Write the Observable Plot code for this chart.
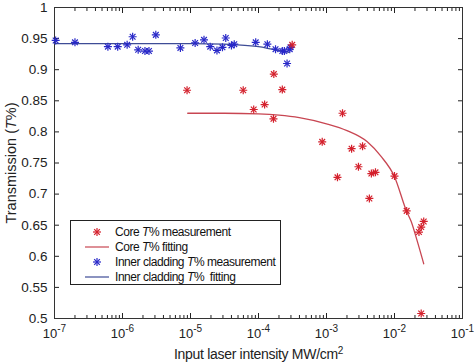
<!DOCTYPE html>
<html><head><meta charset="utf-8">
<script src="https://cdn.jsdelivr.net/npm/d3@7"></script>
<script src="https://cdn.jsdelivr.net/npm/@observablehq/plot@0.6"></script>
<style>
body{margin:0;background:#fff;}
#wrap{position:relative;width:474px;height:364px;font-family:"Liberation Sans",Arial,sans-serif;}
#legend{position:absolute;left:70px;top:220px;width:209px;height:63px;border:1px solid #222;background:#fff;font-size:12px;letter-spacing:-0.45px;color:#111;}
.row{position:absolute;left:0;height:15px;display:flex;align-items:center;white-space:nowrap;}
.row svg{margin-left:14px;margin-right:6px;}
</style></head><body><div id="wrap"></div>
<script>
// Inner cladding measurement
const cladI = [1.04e-7,2.0e-7,6.1e-7,8.5e-7,1.17e-6,1.41e-6,1.70e-6,2.14e-6,2.45e-6,3.09e-6,7.1e-6,1.17e-5,1.58e-5,1.95e-5,2.45e-5,2.95e-5,3.3e-5,4.0e-5,4.4e-5,9.1e-5,1.35e-4,1.78e-4,2.24e-4,2.4e-4,2.63e-4,2.88e-4,2.95e-4];
const cladT = [0.947,0.944,0.937,0.937,0.940,0.953,0.932,0.930,0.930,0.956,0.935,0.943,0.948,0.937,0.931,0.936,0.951,0.939,0.941,0.944,0.941,0.933,0.930,0.930,0.910,0.933,0.936];
// Inner cladding fitting
const cladFitI = [1e-7,1e-5,3.16e-5,6.3e-5,1e-4,1.58e-4,2.5e-4,2.8e-4];
const cladFitT = [0.942,0.942,0.941,0.939,0.937,0.933,0.929,0.928];
// Core measurement
const coreI = [3.13e-4,8.9e-6,5.96e-5,8.5e-5,1.23e-4,1.68e-4,2.24e-4,1.66e-4,1.72e-3,8.65e-4,2.34e-3,3.39e-3,2.95e-3,1.45e-3,4.57e-3,5.25e-3,4.27e-3,1.0e-2,1.51e-2,2.69e-2,2.47e-2,2.29e-2,2.47e-2];
const coreT = [0.940,0.867,0.867,0.836,0.844,0.893,0.868,0.821,0.830,0.784,0.773,0.777,0.744,0.727,0.733,0.735,0.693,0.729,0.673,0.656,0.647,0.639,0.508];
// Core fitting
const coreFitI = [9.1e-6,3.16e-5,1e-4,2.0e-4,3.98e-4,1e-3,2.0e-3,3.98e-3,6.3e-3,1e-2,1.51e-2,1.76e-2,2.14e-2,2.69e-2];
const coreFitT = [0.830,0.830,0.829,0.827,0.823,0.813,0.802,0.784,0.761,0.728,0.672,0.656,0.626,0.588];
// Ticks
const xMajor = [1e-7,1e-6,1e-5,1e-4,1e-3,1e-2,1e-1];
const xMinorMult = [2,3,4,5,6,7,8,9];
const yTicks = [0.5,0.55,0.6,0.65,0.7,0.75,0.8,0.85,0.9,0.95,1];
const legendLabels = ["Core <i>T</i>% measurement","Core <i>T</i>% fitting","Inner cladding <i>T</i>% measurement","Inner cladding <i>T</i>%&nbsp; fitting"];

const RED="#d4202c", REDLINE="#c84652", BLUE="#2828c8", BLUELINE="#3e4c96";
const xMinor = xMajor.slice(0,-1).flatMap(p => xMinorMult.map(k => k*p));
const zip = (a,b) => a.map((v,i)=>({x:v,y:b[i]}));
const clad = zip(cladI,cladT), cladFit = zip(cladFitI,cladFitT), core = zip(coreI,coreT), coreFit = zip(coreFitI,coreFitT);
const blank = () => "";
const star = (data, color) => [
  Plot.dot(data,{x:"x",y:"y",symbol:"plus",r:2.7,stroke:color,strokeWidth:1.2}),
  Plot.dot(data,{x:"x",y:"y",symbol:"times",r:2.7,stroke:color,strokeWidth:1.2})
];

const chart = Plot.plot({
  width:474, height:364,
  marginLeft:54, marginRight:12, marginTop:7, marginBottom:46,
  style:{fontFamily:'"Liberation Sans",Arial,sans-serif', fontSize:"13px", color:"#222", background:"#fff"},
  x:{type:"log", domain:[1e-7,1e-1]},
  y:{domain:[0.5,1]},
  marks:[
    Plot.axisX(xMajor,{anchor:"bottom",tickSize:0,tickPadding:10,fontSize:13,
      tickFormat:d=>"10^"+Math.round(Math.log10(d)),
      label:"Input laser intensity MW/cm²",labelAnchor:"center",labelOffset:40}),
    Plot.axisX(xMajor,{anchor:"bottom",tickSize:-5,tickFormat:blank,label:null}),
    Plot.axisX(xMinor,{anchor:"bottom",tickSize:-3,tickFormat:blank,label:null}),
    Plot.axisX(xMajor,{anchor:"top",tickSize:-5,tickFormat:blank,label:null}),
    Plot.axisX(xMinor,{anchor:"top",tickSize:-3,tickFormat:blank,label:null}),
    Plot.axisY(yTicks,{anchor:"left",tickSize:0,tickPadding:7,fontSize:13.5,
      tickFormat:d=>String(+d.toFixed(2)),
      label:"Transmission (T%)",labelAnchor:"center",labelOffset:49}),
    Plot.axisY(yTicks,{anchor:"left",tickSize:-5,tickFormat:blank,label:null}),
    Plot.axisY(yTicks,{anchor:"right",tickSize:-5,tickFormat:blank,label:null}),
    Plot.frame({stroke:"#333",strokeWidth:1}),
    Plot.line(cladFit,{x:"x",y:"y",stroke:BLUELINE,strokeWidth:1.3,curve:"monotone-x"}),
    Plot.line(coreFit,{x:"x",y:"y",stroke:REDLINE,strokeWidth:1.3,curve:"monotone-x"}),
    ...star(clad,BLUE),
    ...star(core,RED)
  ]
});

// superscript exponents on x tick labels, italic T on y label
d3.select(chart).selectAll('g[aria-label="x-axis tick label"] text').each(function(){
  const t = this.textContent || ""; if (!t.includes("^")) return;
  const [b,e] = t.split("^");
  const s = d3.select(this); s.text(b);
  s.append("tspan").attr("dy","-0.55em").attr("font-size","10px").text(e);
});
d3.select(chart).selectAll('g[aria-label="y-axis label"] text').each(function(){
  const s = d3.select(this).attr("font-size","14.5px"); s.text("Transmission (");
  s.append("tspan").attr("font-style","italic").text("T");
  s.append("tspan").text("%)");
});
d3.select(chart).selectAll('g[aria-label="x-axis label"] text').each(function(){
  const s = d3.select(this).attr("font-size","14px").attr("letter-spacing","-0.3px"); s.text("Input laser intensity MW/cm");
  s.append("tspan").attr("dy","-0.45em").attr("font-size","10px").text("2");
});

const wrap = document.getElementById("wrap");
wrap.appendChild(chart);
const leg = document.createElement("div"); leg.id="legend";
const samples = [
  `<svg width="24" height="10"><g stroke="${RED}" stroke-width="1.2"><line x1="8" y1="5" x2="16" y2="5"/><line x1="12" y1="1" x2="12" y2="9"/><line x1="9.2" y1="2.2" x2="14.8" y2="7.8"/><line x1="9.2" y1="7.8" x2="14.8" y2="2.2"/></g></svg>`,
  `<svg width="24" height="10"><line x1="0" y1="5" x2="24" y2="5" stroke="${REDLINE}" stroke-width="1.2"/></svg>`,
  `<svg width="24" height="10"><g stroke="${BLUE}" stroke-width="1.2"><line x1="8" y1="5" x2="16" y2="5"/><line x1="12" y1="1" x2="12" y2="9"/><line x1="9.2" y1="2.2" x2="14.8" y2="7.8"/><line x1="9.2" y1="7.8" x2="14.8" y2="2.2"/></g></svg>`,
  `<svg width="24" height="10"><line x1="0" y1="5" x2="24" y2="5" stroke="${BLUELINE}" stroke-width="1.2"/></svg>`
];
legendLabels.forEach((lab,i)=>{
  const r = document.createElement("div"); r.className="row";
  r.style.top = (3 + i*15) + "px";
  r.innerHTML = samples[i] + "<span>" + lab + "</span>";
  leg.appendChild(r);
});
wrap.appendChild(leg);
</script></body></html>
